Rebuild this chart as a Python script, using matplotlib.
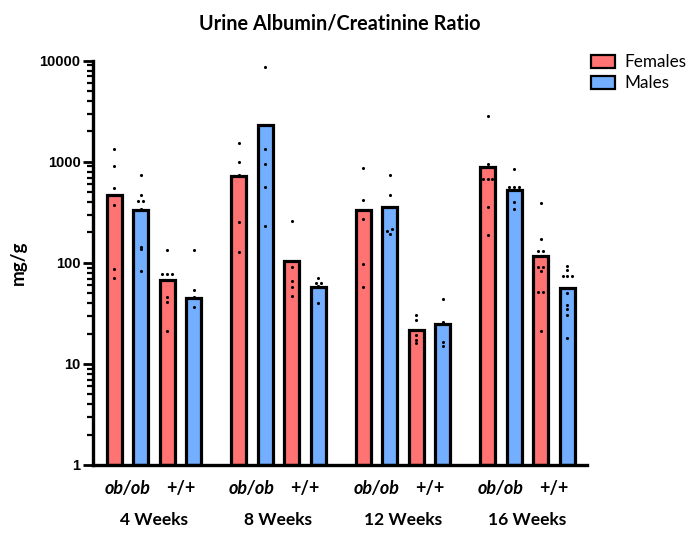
import numpy as np
import matplotlib
matplotlib.use("Agg")
import matplotlib.pyplot as plt
from matplotlib.patches import Patch
from matplotlib.ticker import LogLocator, NullFormatter

# data (mg/g)
groups = ["4 Weeks", "8 Weeks", "12 Weeks", "16 Weeks"]
genotypes = ["ob/ob", "+/+"]
series = ["Females", "Males"]

# bar heights, per group: [ob/ob F, ob/ob M, +/+ F, +/+ M]
bars_4wk = [471, 335, 67, 45]
bars_8wk = [727, 2325, 105, 58]
bars_12wk = [335, 360, 21.7, 24.9]
bars_16wk = [898, 528, 118, 56.5]

# individual animals
dots_4wk = [
    [1355, 919, 557, 375, 87, 70.6],
    [738, 468, 411, 411, 343, 145, 137, 83],
    [134.5, 77.3, 77.3, 77.3, 45.7, 41.4, 21.2],
    [134, 54.4, 46.4, 36.4],
]
dots_8wk = [
    [1531, 1000, 743, 256, 128.5],
    [8730, 1336, 949, 562, 231],
    [262, 90.6, 65.9, 57.4, 47.5],
    [70.6, 63, 63, 59.2, 40.4],
]
dots_12wk = [
    [866, 421, 273, 97.7, 58.2],
    [743, 474, 216, 206, 195],
    [30.6, 27.3, 19.4, 17.3, 16.3],
    [44.3, 26.2, 16.4, 15.2],
]
dots_16wk = [
    [2834, 962, 684, 684, 684, 358, 188],
    [859, 570, 570, 570, 399, 340],
    [393, 172, 131.5, 131.5, 90.6, 90.6, 82.8, 51.3, 51.3, 21.2],
    [93.4, 84.7, 74.3, 74.3, 74.3, 50.1, 38.4, 35, 30.3, 18.2],
]

all_bars = [bars_4wk, bars_8wk, bars_12wk, bars_16wk]
all_dots = [dots_4wk, dots_8wk, dots_12wk, dots_16wk]

colors = ["#FF7373", "#73AEFF"]
group_step = 4.69
bar_w = 0.57

plt.rcParams['font.family'] = ['Lato', 'DejaVu Sans']

fig = plt.figure(figsize=(7, 5.36), dpi=100)
ax = fig.add_axes([0.133, 0.1325, 0.706, 0.754])


def spread(vals, gap=0.18, tol=0.022):
    # horizontal offsets for dots that sit on top of each other
    vals = np.asarray(vals, dtype=float)
    order = np.argsort(vals)
    offs = np.zeros(len(vals))
    clusters = [[order[0]]]
    for i in order[1:]:
        if abs(np.log10(vals[i]) - np.log10(vals[clusters[-1][-1]])) < tol:
            clusters[-1].append(i)
        else:
            clusters.append([i])
    for c in clusters:
        n = len(c)
        for k, i in enumerate(c):
            offs[i] = gap * (k - (n - 1) / 2)
    return offs


for g in range(len(groups)):
    for i in range(4):
        x = g * group_step + i
        h = all_bars[g][i]
        ax.bar(x, h - 1, bottom=1, width=bar_w, color=colors[i % 2],
               edgecolor='black', linewidth=2.3, zorder=2)
        d = all_dots[g][i]
        ax.scatter(x + spread(d), d, s=5, color='black', zorder=3, linewidths=0)

ax.set_yscale('log')
ax.set_ylim(1, 10000)
ax.set_xlim(-0.79, 17.82)

ax.yaxis.set_minor_locator(LogLocator(base=10, subs=np.arange(2, 10), numticks=10))
ax.set_yticks([1, 10, 100, 1000, 10000])
ax.set_yticklabels(["1", "10", "100", "1000", "10000"],
                   fontfamily='Liberation Sans', fontweight='bold', fontsize=10.5)
ax.yaxis.set_minor_formatter(NullFormatter())
ax.tick_params(axis='y', which='major', length=7, width=2, pad=2)
ax.tick_params(axis='y', which='minor', length=4.5, width=1.6)
ax.set_xticks([])

for s in ['top', 'right']:
    ax.spines[s].set_visible(False)
for s in ['left', 'bottom']:
    ax.spines[s].set_linewidth(2.4)

ax.set_ylabel("mg/g", fontsize=13.5, fontweight='bold', labelpad=9)

trans = ax.get_xaxis_transform()
for g in range(len(groups)):
    base = g * group_step
    ax.text(base + 0.5, -0.057, genotypes[0], transform=trans, ha='center', va='center',
            fontsize=13, fontweight='bold', fontstyle='italic')
    ax.text(base + 2.5, -0.057, genotypes[1], transform=trans, ha='center', va='center',
            fontsize=13, fontweight='bold')
    ax.text(base + 1.5, -0.136, groups[g], transform=trans, ha='center', va='center',
            fontsize=12.5, fontweight='bold')

fig.text(0.486, 0.957, "Urine Albumin/Creatinine Ratio", ha='center', va='center',
         fontsize=14.3, fontweight='bold')

handles = [Patch(facecolor=colors[k], edgecolor='black', linewidth=1.6, label=series[k])
           for k in range(2)]
fig.legend(handles=handles, loc='upper left', bbox_to_anchor=(0.834, 0.912), frameon=False,
           fontsize=12.3, handlelength=1.4, handleheight=0.8, handletextpad=0.6,
           labelspacing=0.3, borderaxespad=0)

fig.savefig("out.png", dpi=100)
